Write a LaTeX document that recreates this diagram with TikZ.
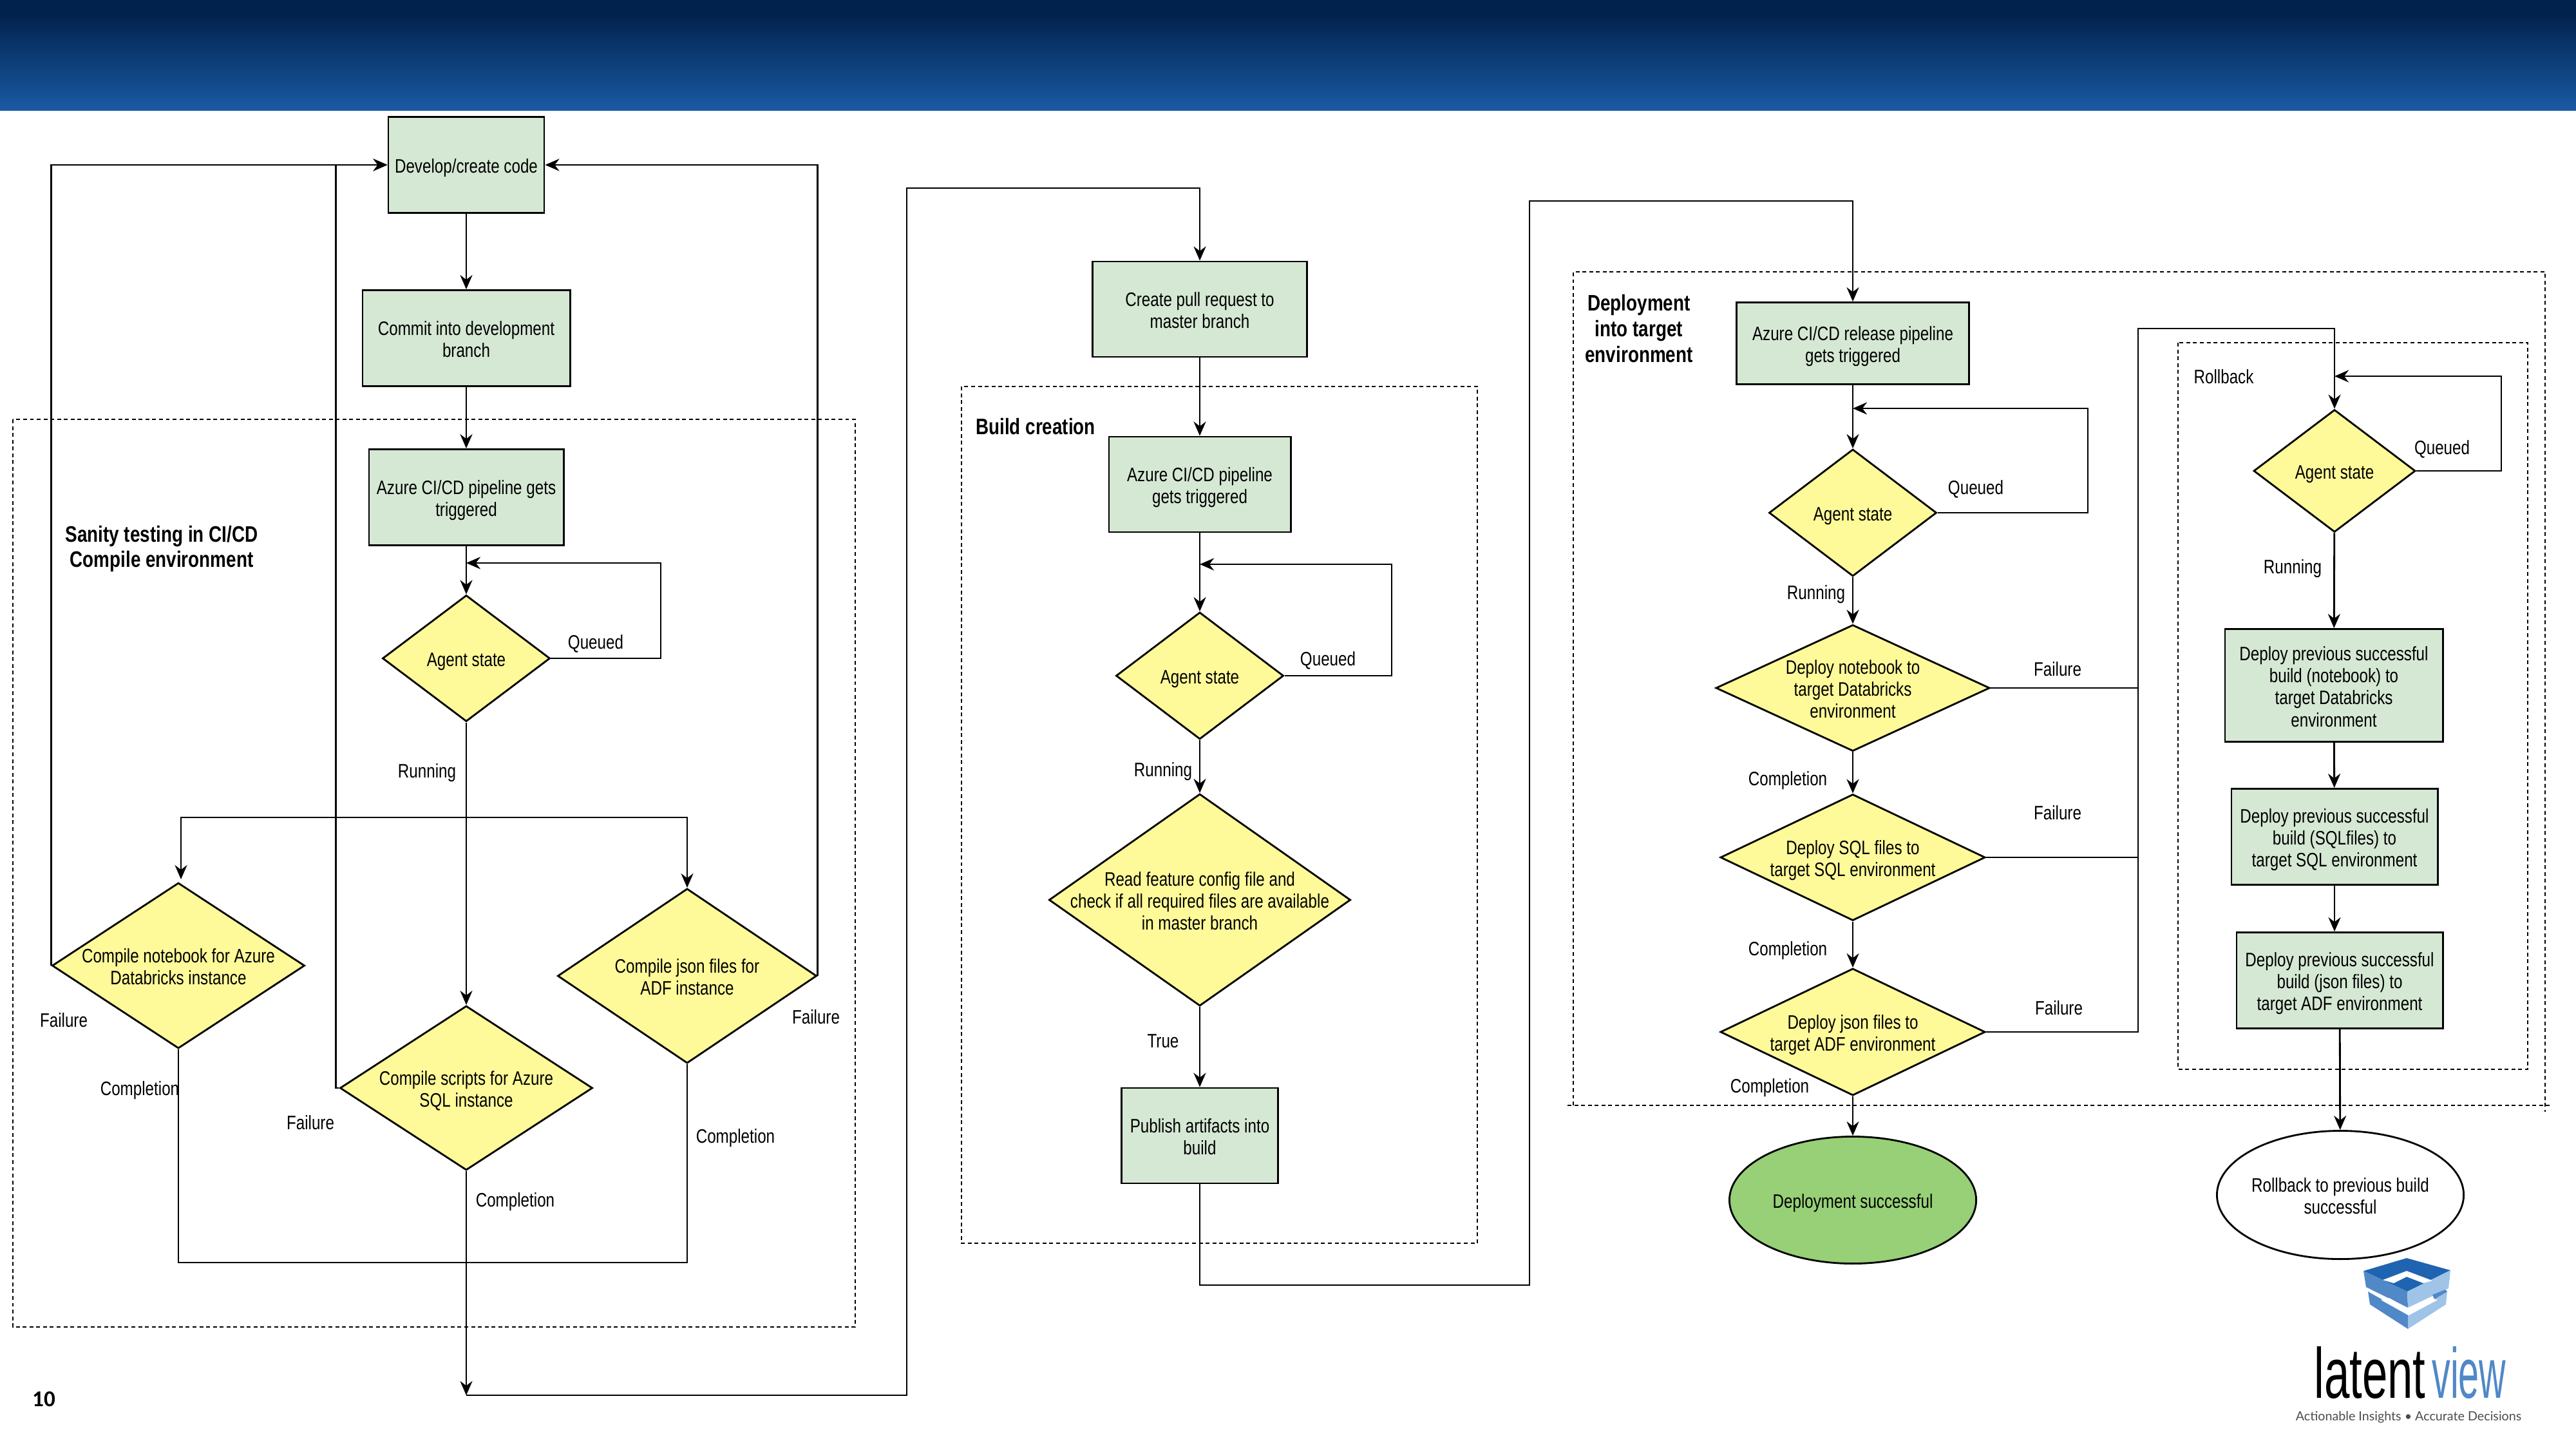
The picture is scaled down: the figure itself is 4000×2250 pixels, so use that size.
\documentclass[tikz,border=0pt]{standalone}
\usepackage{fontspec}
\usepackage{graphicx}
\usetikzlibrary{shapes.geometric,arrows.meta}
\setmainfont{Liberation Sans}
\newfontfamily\flowfont[FakeStretch=0.8]{Liberation Sans}
\newfontfamily\pagefont{Carlito}
\newfontfamily\tagfont{Lato}
\definecolor{boxgreen}{HTML}{D5E8D4}
\definecolor{decyellow}{HTML}{FFFA99}
\definecolor{okgreen}{HTML}{97D077}
\definecolor{bandtop}{HTML}{02224E}
\definecolor{bandbot}{HTML}{1A5AA3}
\definecolor{logoa}{HTML}{1F64B0}
\definecolor{logob}{HTML}{5088C8}
\definecolor{logoc}{HTML}{A0C4E8}
% text of a shape takes no room, so the shape keeps its size
\newcommand{\dtext}[1]{\raisebox{-.46em}[0pt][0pt]{\makebox[0pt]{\smash{\begin{tabular}{@{}c@{}}#1\end{tabular}}}}}
\begin{document}
\begin{tikzpicture}[x=0.01cm,y=-0.01cm,line width=.8pt,>={Stealth[length=2.2mm,width=1.9mm]},
flow text/.style={font=\flowfont\fontsize{8.6}{9.7}\selectfont,align=center,inner sep=0pt},
proc node/.style={rectangle,draw,fill=boxgreen,flow text},
dec node/.style={diamond,draw,fill=decyellow,flow text},
end node/.style={ellipse,draw,flow text},
head node/.style={font=\flowfont\bfseries\fontsize{9.9}{11.3}\selectfont,align=center,inner sep=0pt},
group box/.style={dash pattern=on 1.7pt off 1.3pt,line width=.6pt}]
\useasboundingbox (0,0) rectangle (4000,2250);
\fill [bandtop] (0,0) rectangle (4000,22);
\shade [top color=bandtop,bottom color=bandbot] (0,22) rectangle (4000,171);

\draw [group box] (20,651) rectangle (1328,2060);
\draw [group box] (1493,600) rectangle (2294,1930);
\draw [group box] (2443,1716) -- (2443,422) -- (3952,422) -- (3952,1726);
\draw [group box] (2434,1716) -- (3963,1716);
\draw [group box] (3382,532) rectangle (3925,1660);

% compile column
\node [proc node,minimum width=2.42cm,minimum height=1.49cm](c1) at (724,256) {\dtext{Develop/create code}};
\node [proc node,minimum width=3.22cm,minimum height=1.49cm](c2) at (724,525) {\dtext{Commit into development\\branch}};
\node [proc node,minimum width=3.02cm,minimum height=1.49cm](c3) at (724,772) {\dtext{Azure CI/CD pipeline gets\\triggered}};
\node [dec node,minimum width=2.6cm,minimum height=1.96cm](c4) at (724,1022) {\dtext{Agent state}};
\node [dec node,minimum width=3.92cm,minimum height=2.57cm](c5) at (277,1499) {\dtext{Compile notebook for Azure\\Databricks instance}};
\node [dec node,minimum width=3.92cm,minimum height=2.55cm](c6) at (724,1689) {\dtext{Compile scripts for Azure\\SQL instance}};
\node [dec node,minimum width=4.02cm,minimum height=2.71cm](c7) at (1067,1515) {\dtext{Compile json files for\\ADF instance}};
% build column
\node [proc node,minimum width=3.33cm,minimum height=1.48cm](b1) at (1863,480) {\dtext{Create pull request to\\master branch}};
\node [proc node,minimum width=2.82cm,minimum height=1.48cm](b2) at (1863,752) {\dtext{Azure CI/CD pipeline\\gets triggered}};
\node [dec node,minimum width=2.6cm,minimum height=1.97cm](b3) at (1863,1049) {\dtext{Agent state}};
\node [dec node,minimum width=4.68cm,minimum height=3.29cm](b4) at (1863,1397) {\dtext{Read feature config file and\\check if all required files are available\\in master branch}};
\node [proc node,minimum width=2.43cm,minimum height=1.48cm](b5) at (1863,1763) {\dtext{Publish artifacts into\\build}};
% deployment column
\node [proc node,minimum width=3.61cm,minimum height=1.27cm](d1) at (2877,533) {\dtext{Azure CI/CD release pipeline\\gets triggered}};
\node [dec node,minimum width=2.6cm,minimum height=1.97cm](d2) at (2877,796) {\dtext{Agent state}};
\node [dec node,minimum width=4.25cm,minimum height=1.96cm](d3) at (2877,1068) {\dtext{Deploy notebook to\\target Databricks\\environment}};
\node [dec node,minimum width=4.11cm,minimum height=1.96cm](d4) at (2877,1331) {\dtext{Deploy SQL files to\\target SQL environment}};
\node [dec node,minimum width=4.11cm,minimum height=1.97cm](d5) at (2877,1602) {\dtext{Deploy json files to\\target ADF environment}};
\node [end node,fill=okgreen,minimum width=3.83cm,minimum height=1.97cm](d6) at (2877,1863) {\dtext{Deployment successful}};
% rollback column
\node [dec node,minimum width=2.51cm,minimum height=1.9cm](r1) at (3625,731) {\dtext{Agent state}};
\node [proc node,minimum width=3.38cm,minimum height=1.75cm](r2) at (3624,1064) {\dtext{Deploy previous successful\\build (notebook) to\\target Databricks\\environment}};
\node [proc node,minimum width=3.2cm,minimum height=1.49cm](r3) at (3625,1299) {\dtext{Deploy previous successful\\build (SQLfiles) to\\target SQL environment}};
\node [proc node,minimum width=3.2cm,minimum height=1.49cm](r4) at (3633,1522) {\dtext{Deploy previous successful\\build (json files) to\\target ADF environment}};
\node [end node,minimum width=3.83cm,minimum height=1.99cm](r5) at (3634,1855) {\dtext{Rollback to previous build\\successful}};

\coordinate (s1) at (724,1269);
\coordinate (m1) at (724,1960);
\coordinate (e1) at (724,2166);
\coordinate (e2) at (1408,292);
\coordinate (e3) at (2375,1995);
\coordinate (e4) at (2375,312);
\coordinate (t1) at (281,1365);
\coordinate (f1) at (3320,510);
\coordinate (q1) at (1026,874);
\coordinate (q2) at (2161,876);
\coordinate (q3) at (3242,634);
\coordinate (q4) at (3884,584);

\path 
	(c1) edge [->] (c2)
	(c2) edge [->] (c3)
	(c3) edge [->] (c4)
	(c4) edge [->] (c6)
	(c6) edge [->] (e1)
	(b1) edge [->] (b2)
	(b2) edge [->] (b3)
	(b3) edge [->] (b4)
	(b4) edge [->] (b5)
	(d1) edge [->] (d2)
	(d2) edge [->] (d3)
	(d3) edge [->] (d4)
	(d4) edge [->] (d5)
	(d5) edge [->] (d6)
	(r1) edge [->] (r2)
	(r2) edge [->] (r3)
	(r3) edge [->] (r3.south |- r4.north)
	(r4) edge [->] (r5)
	;
\draw [->] (c4.east) -| (q1) -- (q1 -| c4.north);
\draw [->] (b3.east) -| (q2) -- (q2 -| b3.north);
\draw [->] (d2.east) -| (q3) -- (q3 -| d2.north);
\draw [->] (r1.east) -| (q4) -- (q4 -| r1.north);
\draw [->] (s1) -| (t1);
\draw [->] (s1) -| (c7.north);
\draw [->] (c5.west) |- (c1.west);
\draw [->] (c6.west) -- ++(-5,0) |- (c1.west);
\draw [->] (c7.east) |- (c1.east);
\draw (c5.south) |- (m1);
\draw (c7.south) |- (m1);
\draw [->] (e1) -| (e2) -| (b1.north);
\draw [->] (b5.south) |- (e3) -- (e4) -| (d1.north);
\draw (d3.east) -- (d3.east -| f1);
\draw (d4.east) -- (d4.east -| f1);
\draw [->] (d5.east) -| (f1) -| (r1.north);

\begin{scope}[every node/.style={flow text}]
\node (lc1) at (925,999) {Queued};
\node (lc2) at (663,1200) {Running};
\node (lc3) at (99,1584) {Failure};
\node (lc4) at (217,1693) {Completion};
\node (lc5) at (482,1743) {Failure};
\node (lc6) at (800,1866) {Completion};
\node (lc7) at (1142,1767) {Completion};
\node (lc8) at (1267,1579) {Failure};
\node (lb1) at (2062,1025) {Queued};
\node (lb2) at (1806,1198) {Running};
\node (lb3) at (1806,1616) {True};
\node (ld1) at (3068,759) {Queued};
\node (ld2) at (2820,923) {Running};
\node (ld3) at (3195,1039) {Failure};
\node (ld4) at (2776,1212) {Completion};
\node (ld5) at (3195,1262) {Failure};
\node (ld6) at (2776,1476) {Completion};
\node (ld7) at (3197,1565) {Failure};
\node (ld8) at (2748,1689) {Completion};
\node (lr1) at (3792,697) {Queued};
\node (lr2) at (3560,883) {Running};
\node (lr3) at (3453,585) {Rollback};
\end{scope}
\node [head node](hc) at (251,852) {Sanity testing in CI/CD\\Compile environment};
\node [head node](hb) at (1608,662) {Build creation};
\node [head node](hd) at (2545,510) {Deployment\\into target\\environment};
\node [font=\pagefont\bfseries\fontsize{10}{12}\selectfont,inner sep=0pt](pg) at (68,2172) {10};

% logo
\fill [logoa] (3670,1973) -- (3737,1953) -- (3805,1972) -- (3738,2005) -- cycle;
\fill [logob] (3670,1973) -- (3738,2005) -- (3739,2030) -- (3674,1998) -- cycle;
\fill [logoc] (3805,1972) -- (3738,2005) -- (3739,2030) -- (3802,2000) -- cycle;
\fill [white] (3700,1987) -- (3737,1973) -- (3777,1988) -- (3763,1992) -- (3737,1982) -- (3717,1992) -- cycle;
\fill [logob] (3677,2005) -- (3739,2040) -- (3739,2063) -- (3680,2025) -- cycle;
\fill [logoc] (3739,2040) -- (3800,2005) -- (3798,2025) -- (3739,2063) -- cycle;
\fill [logob] (3777,2010) -- (3797,2002) -- (3800,2005) -- (3780,2017) -- cycle;
\fill [white] (3697,2018) -- (3710,2015) -- (3742,2033) -- (3775,2015) -- (3785,2018) -- (3740,2042) -- cycle;
\node [inner sep=0pt,anchor=south west](lg1) at (3592,2173) {\resizebox{1.73cm}{.8cm}{latent}};
\node [inner sep=0pt,anchor=south west,text=logob](lg2) at (3775,2173) {\resizebox{1.15cm}{.8cm}{view}};
\node [font=\tagfont\fontsize{5.6}{6}\selectfont,text=black!70,inner sep=0pt](lg3) at (3740,2200) {Actionable Insights • Accurate Decisions};
\end{tikzpicture}
\end{document}
